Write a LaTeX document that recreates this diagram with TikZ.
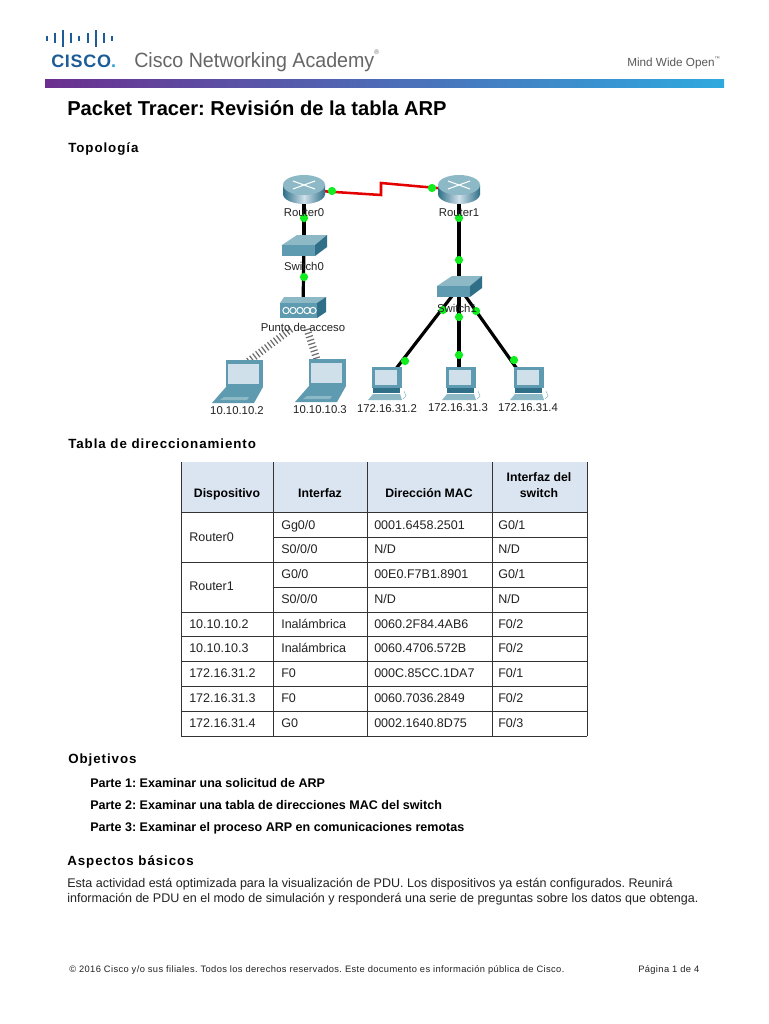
\documentclass[tikz,border=0pt]{standalone}
\usepackage{fontspec}
\setmainfont{Liberation Sans}
\usetikzlibrary{calc,shadings}
\definecolor{teal1}{HTML}{5E9BB0}
\definecolor{teal2}{HTML}{8DB8C6}
\definecolor{teal3}{HTML}{2F7088}
\definecolor{screenblue}{HTML}{CFE0EA}
\definecolor{headblue}{HTML}{DBE5F1}
\definecolor{ciscoblue}{HTML}{1D5C96}
\definecolor{ciscocyan}{HTML}{2A9FD6}
\definecolor{linkgreen}{HTML}{10EE20}
\definecolor{bandleft}{HTML}{6B2F8F}
\definecolor{bandmid}{HTML}{2B4A9A}
\definecolor{bandright}{HTML}{2FA9DE}
\definecolor{txt}{HTML}{222222}
\tikzset{
  routericon/.pic={
    \shade[left color=teal3, right color=teal3, middle color=screenblue] (0,4) ellipse [x radius=21, y radius=10];
    \shade[left color=teal3, right color=teal3, middle color=screenblue] (-21,-5) rectangle (21,4);
    \fill[teal2] (0,-5) ellipse [x radius=21, y radius=10];
    \draw[white, line width=.8pt] (-11,-9) -- (11,-1) (-11,-1) -- (11,-9);
  },
  switchicon/.pic={
    \fill[teal2] (-22,-1) -- (-7,-11) -- (23,-11) -- (11,-1) -- cycle;
    \fill[teal1] (-22,-1) rectangle (11,10);
    \fill[teal3] (11,-1) -- (23,-11) -- (23,1) -- (11,10) -- cycle;
  },
  apicon/.pic={
    \fill[teal2] (-23,-5) -- (-19,-11) -- (23,-11) -- (14,-5) -- cycle;
    \fill[teal1] (-23,-5) rectangle (14,10);
    \fill[teal3] (14,-5) -- (23,-11) -- (23,4) -- (14,10) -- cycle;
    \foreach \k in {-17,-10,-3,4,10}
      \draw[white, line width=.7pt] (\k,2.5) circle [radius=3.2];
  },
  laptopicon/.pic={
    \fill[teal1] (-11,-10) rectangle (26,17);
    \fill[screenblue] (-9,-6) rectangle (22,14);
    \fill[teal1] (-11,17) -- (26,17) -- (17,33) -- (-25,33) -- cycle;
    \fill[teal2] (-13,27) -- (12,27) -- (10,30) -- (-17,30) -- cycle;
  },
  pcicon/.pic={
    \fill[teal1] (-13,-16) rectangle (17,5);
    \fill[screenblue] (-10,-13) rectangle (12,2);
    \fill[teal3] (-12,5) rectangle (15,10);
    \fill[teal2] (-12,11) -- (15,11) -- (17,17) -- (-17,17) -- cycle;
    \draw[teal2, line width=.4pt] (19,8) -- (21,13) -- (18,16);
  }
}
\begin{document}
\frenchspacing
\begin{tikzpicture}[x=.75pt,y=-.75pt,
  every node/.style={font=\fontsize{9.4}{11.5}\selectfont, text=txt, inner sep=0pt},
  heading/.style={anchor=west, font=\fontsize{10}{12}\bfseries\addfontfeature{LetterSpace=7}, text=black},
  part/.style={anchor=west, font=\fontsize{9.4}{11}\bfseries\selectfont, text=black},
  body/.style={anchor=west, font=\fontsize{9.4}{11}\selectfont, text=txt},
  foot/.style={anchor=west, font=\fontsize{7}{8}\addfontfeature{LetterSpace=4}, text=txt},
  devlabel/.style={font=\fontsize{8.5}{10}\selectfont, text=txt},
  headcell/.style={align=center, font=\fontsize{9.2}{12}\bfseries\selectfont, text=black},
  cell/.style={anchor=base west},
  link/.style={line width=2.4pt, black},
  serial/.style={line width=1.9pt, red!90!black},
  wireless/.style={line width=5.5pt, gray!85!black, dash pattern=on .9pt off 1.9pt},
  port/.style={circle, fill=linkgreen, minimum size=6.2pt},
  grid/.style={line width=.75pt, black!80}]
\useasboundingbox (0,0) rectangle (768,1024);
\fill[white] (0,0) rectangle (768,1024);

\foreach \x/\h [count=\i] in {47/5,55/10,63/17,71/10,79/5,88/10,96/17,104/10,112/5}
  \fill[ciscoblue] (\x-1.2,38.5-\h/2) rectangle (\x+1.2,38.5+\h/2);
\node[anchor=west, font=\fontsize{13.5}{15}\bfseries\addfontfeature{LetterSpace=4}, text=ciscoblue] (cisco) at (51,61) {CISCO\textcolor{ciscocyan}{.}};
\node[anchor=west, font=\fontsize{15.5}{18}\selectfont\addfontfeature{FakeStretch=.95}, text=black!60] (academy) at (134,61) {Cisco Networking Academy\raisebox{1.2ex}{\tiny\textregistered}};
\node[anchor=west, font=\fontsize{8.8}{10}\selectfont, text=black!65] (motto) at (627,63) {Mind Wide Open\raisebox{.9ex}{\fontsize{4}{4}\selectfont\texttrademark}};
\shade[left color=bandleft, middle color=bandmid, right color=bandright] (45,80) rectangle (724,88);

\node[anchor=west, font=\fontsize{15.1}{17}\bfseries\selectfont, text=black] (title) at (67,108) {Packet Tracer: Revisión de la tabla ARP};
\node[heading] (topologia) at (68,149.5) {Topología};

\coordinate (router0) at (304,190);
\coordinate (router1) at (459,190);
\coordinate (switch0) at (304,246);
\coordinate (switch1) at (459,287);
\coordinate (ap) at (303,308);
\coordinate (laptop0) at (237,370);
\coordinate (laptop1) at (320,369);
\coordinate (pc0) at (385,383);
\coordinate (pc1) at (459,383);
\coordinate (pc2) at (527,383);
\coordinate (kinka) at (381,195);
\coordinate (kinkb) at (381,183);
\coordinate (wifia) at (291,329);
\coordinate (wifib) at (307,329);

\draw[serial] (router0) -- (kinka) -- (kinkb) -- (router1);
\draw[link] (router0) -- (switch0);
\draw[link] (switch0) -- (ap);
\draw[link] (router1) -- (switch1);
\draw[link] (switch1) -- (pc0);
\draw[link] (switch1) -- (pc1);
\draw[link] (switch1) -- (pc2);
\draw[wireless] (wifia) -- (laptop0);
\draw[wireless] (wifib) -- (laptop1);

\pic at (router0) {routericon};
\pic at (router1) {routericon};
\pic at (switch0) {switchicon};
\pic at (switch1) {switchicon};
\pic at (ap) {apicon};
\pic at (laptop0) {laptopicon};
\pic at (laptop1) {laptopicon};
\pic at (pc0) {pcicon};
\pic at (pc1) {pcicon};
\pic at (pc2) {pcicon};

\foreach \x/\y [count=\i] in {332/191,432/188,304/218,304/277,459/218,459/260,443/310,459/317,476/311,405/361,459/355,514/360}
  \node[port] (port\i) at (\x,\y) {};

\node[devlabel] (lblrouter0) at (304,213) {Router0};
\node[devlabel] (lblrouter1) at (459,213) {Router1};
\node[devlabel] (lblswitch0) at (304,266) {Switch0};
\node[devlabel] (lblswitch1) at (457,308) {Switch1};
\node[devlabel] (lblap) at (303,327) {Punto de acceso};
\node[devlabel] (lbllaptop0) at (237,411) {10.10.10.2};
\node[devlabel] (lbllaptop1) at (320,410) {10.10.10.3};
\node[devlabel] (lblpc0) at (387,409) {172.16.31.2};
\node[devlabel] (lblpc1) at (458,408) {172.16.31.3};
\node[devlabel] (lblpc2) at (528,408) {172.16.31.4};

\node[heading] (tabla) at (68,444) {Tabla de direccionamiento};

\fill[headblue] (181,462) rectangle (587,512);
\foreach \y in {512,562,612,636,661,686,711,736}
  \draw[grid] (181,\y) -- (587,\y);
\foreach \y in {537,587}
  \draw[grid] (273,\y) -- (587,\y);
\foreach \x in {181,273,367,492,587}
  \draw[grid] (\x,462) -- (\x,736);

\node[headcell, anchor=base] (hdev) at (227,497) {Dispositivo};
\node[headcell, anchor=base] (hifc) at (320,497) {Interfaz};
\node[headcell, anchor=base] (hmac) at (429,497) {Dirección MAC};
\node[headcell] (hsw) at (539,485) {Interfaz del\\switch};

\node[cell] (devr0) at (189,541) {Router0};
\node[cell] (devr1) at (189,590) {Router1};
\foreach \y/\dev [count=\i] in {628/10.10.10.2,652.5/10.10.10.3,677.5/172.16.31.2,702/172.16.31.3,727/172.16.31.4}
  \node[cell] (dev\i) at (189,\y) {\dev};
\foreach \y/\ifc/\mac/\sw [count=\i] in {
  529/{Gg0/0}/0001.6458.2501/{G0/1},
  553.5/{S0/0/0}/{N/D}/{N/D},
  578.5/{G0/0}/00E0.F7B1.8901/{G0/1},
  603/{S0/0/0}/{N/D}/{N/D},
  628/Inalámbrica/0060.2F84.4AB6/{F0/2},
  652.5/Inalámbrica/0060.4706.572B/{F0/2},
  677.5/F0/000C.85CC.1DA7/{F0/1},
  702/F0/0060.7036.2849/{F0/2},
  727/G0/0002.1640.8D75/{F0/3}}{
  \node[cell] (ifc\i) at (281,\y) {\ifc};
  \node[cell] (mac\i) at (374,\y) {\mac};
  \node[cell] (sw\i) at (498,\y) {\sw};
}

\node[heading] (objetivos) at (68,760.5) {Objetivos};
\node[part] (parte1) at (90,783) {Parte 1: Examinar una solicitud de ARP};
\node[part] (parte2) at (90,805) {Parte 2: Examinar una tabla de direcciones MAC del switch};
\node[part] (parte3) at (90,828) {Parte 3: Examinar el proceso ARP en comunicaciones remotas};
\node[heading] (aspectos) at (67,861.5) {Aspectos básicos};
\node[body] (bodya) at (67,884) {Esta actividad está optimizada para la visualización de PDU. Los dispositivos ya están configurados. Reunirá};
\node[body] (bodyb) at (67,899) {información de PDU en el modo de simulación y responderá una serie de preguntas sobre los datos que obtenga.};
\node[foot] (footl) at (69,970) {© 2016 Cisco y/o sus filiales. Todos los derechos reservados. Este documento es información pública de Cisco.};
\node[foot] (footr) at (638,970) {Página 1 de 4};
\end{tikzpicture}
\end{document}
